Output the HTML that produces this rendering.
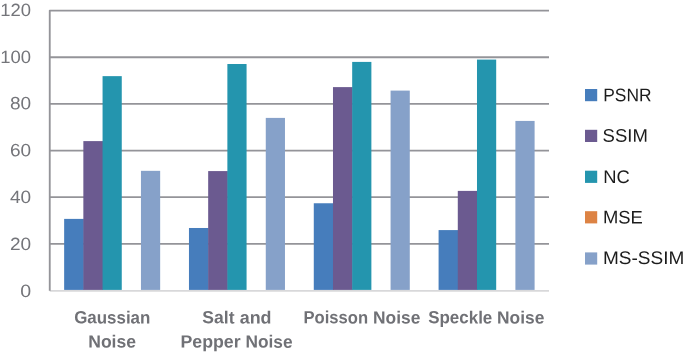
<!DOCTYPE html>
<html><head><meta charset="utf-8"><title>Chart</title>
<style>
html,body{margin:0;padding:0;background:#fff;}
svg{display:block;}
text{font-family:"Liberation Sans",sans-serif;}
.ax{font-size:17.8px;fill:#74757A;}
.cat{font-size:17.6px;font-weight:bold;fill:#707176;}
.lg{font-size:18.2px;fill:#1c1c1c;}
</style></head><body>
<svg width="685" height="355" viewBox="0 0 685 355">
<rect width="685" height="355" fill="#fff"/>
<line x1="49.75" y1="243.85" x2="549.00" y2="243.85" stroke="#949499" stroke-width="1.8"/>
<line x1="49.75" y1="197.20" x2="549.00" y2="197.20" stroke="#949499" stroke-width="1.8"/>
<line x1="49.75" y1="150.55" x2="549.00" y2="150.55" stroke="#949499" stroke-width="1.8"/>
<line x1="49.75" y1="103.90" x2="549.00" y2="103.90" stroke="#949499" stroke-width="1.8"/>
<line x1="49.75" y1="57.25" x2="549.00" y2="57.25" stroke="#949499" stroke-width="1.8"/>
<rect x="64.15" y="218.89" width="19.70" height="71.01" fill="#467DBC"/>
<rect x="83.35" y="141.10" width="19.70" height="148.80" fill="#6B5A90"/>
<rect x="102.56" y="76.14" width="19.20" height="213.76" fill="#2495AE"/>
<rect x="140.96" y="170.84" width="19.20" height="119.06" fill="#86A1C9"/>
<rect x="188.96" y="227.99" width="19.70" height="61.91" fill="#467DBC"/>
<rect x="208.17" y="171.08" width="19.70" height="118.82" fill="#6B5A90"/>
<rect x="227.37" y="64.01" width="19.20" height="225.89" fill="#2495AE"/>
<rect x="265.77" y="117.90" width="19.20" height="172.00" fill="#86A1C9"/>
<rect x="313.78" y="203.26" width="19.70" height="86.64" fill="#467DBC"/>
<rect x="332.98" y="87.11" width="19.70" height="202.79" fill="#6B5A90"/>
<rect x="352.18" y="61.91" width="19.20" height="227.98" fill="#2495AE"/>
<rect x="390.58" y="90.60" width="19.20" height="199.30" fill="#86A1C9"/>
<rect x="438.59" y="230.09" width="19.70" height="59.81" fill="#467DBC"/>
<rect x="457.79" y="190.90" width="19.70" height="99.00" fill="#6B5A90"/>
<rect x="476.99" y="59.58" width="19.20" height="230.32" fill="#2495AE"/>
<rect x="515.40" y="120.93" width="19.20" height="168.97" fill="#86A1C9"/>
<line x1="49.75" y1="290.80" x2="549.00" y2="290.80" stroke="#D8D8DA" stroke-width="1.7"/>
<path d="M549.00 10.60 L49.75 10.60 L49.75 290.70" fill="none" stroke="#949499" stroke-width="1.85" stroke-linejoin="round"/>
<text class="ax" x="31.1" y="297.00" text-anchor="end" textLength="10.9" lengthAdjust="spacingAndGlyphs" transform="rotate(0.05 31.1 297.00)">0</text>
<text class="ax" x="31.1" y="250.00" text-anchor="end" textLength="21.2" lengthAdjust="spacingAndGlyphs" transform="rotate(0.05 31.1 250.00)">20</text>
<text class="ax" x="31.1" y="203.00" text-anchor="end" textLength="21.2" lengthAdjust="spacingAndGlyphs" transform="rotate(0.05 31.1 203.00)">40</text>
<text class="ax" x="31.1" y="156.20" text-anchor="end" textLength="21.2" lengthAdjust="spacingAndGlyphs" transform="rotate(0.05 31.1 156.20)">60</text>
<text class="ax" x="31.1" y="109.30" text-anchor="end" textLength="21.2" lengthAdjust="spacingAndGlyphs" transform="rotate(0.05 31.1 109.30)">80</text>
<text class="ax" x="31.1" y="63.00" text-anchor="end" textLength="30.8" lengthAdjust="spacingAndGlyphs" transform="rotate(0.05 31.1 63.00)">100</text>
<text class="ax" x="31.1" y="16.10" text-anchor="end" textLength="30.8" lengthAdjust="spacingAndGlyphs" transform="rotate(0.05 31.1 16.10)">120</text>
<text class="cat" transform="rotate(0.05 112.0 335)"><tspan x="74.15" y="323.4" textLength="76.2" lengthAdjust="spacingAndGlyphs">Gaussian</tspan> <tspan x="88.22" y="347.6" textLength="47.8" lengthAdjust="spacingAndGlyphs">Noise</tspan></text>
<text class="cat" transform="rotate(0.05 236.6 335)"><tspan x="202.36" y="323.4" textLength="32.2" lengthAdjust="spacingAndGlyphs">Salt</tspan> <tspan x="239.74" y="323.4" textLength="31.8" lengthAdjust="spacingAndGlyphs">and</tspan> <tspan x="180.47" y="347.6" textLength="60.1" lengthAdjust="spacingAndGlyphs">Pepper</tspan> <tspan x="245.53" y="347.6" textLength="47.1" lengthAdjust="spacingAndGlyphs">Noise</tspan></text>
<text class="cat" transform="rotate(0.05 362.0 335)"><tspan x="303.47" y="323.4" textLength="64.6" lengthAdjust="spacingAndGlyphs">Poisson</tspan> <tspan x="373.01" y="323.4" textLength="47.3" lengthAdjust="spacingAndGlyphs">Noise</tspan></text>
<text class="cat" transform="rotate(0.05 486.2 335)"><tspan x="428.19" y="323.4" textLength="64.1" lengthAdjust="spacingAndGlyphs">Speckle</tspan> <tspan x="497.01" y="323.4" textLength="47.3" lengthAdjust="spacingAndGlyphs">Noise</tspan></text>
<rect x="585.0" y="89.0" width="12.2" height="12.2" fill="#467DBC"/>
<text class="lg" x="603.2" y="101.2" textLength="48.3" lengthAdjust="spacingAndGlyphs" transform="rotate(0.05 627.4 101.2)">PSNR</text>
<rect x="585.0" y="129.8" width="12.2" height="12.2" fill="#6B5A90"/>
<text class="lg" x="602.6" y="141.8" textLength="45.2" lengthAdjust="spacingAndGlyphs" transform="rotate(0.05 625.2 141.8)">SSIM</text>
<rect x="585.0" y="170.7" width="12.2" height="12.2" fill="#2495AE"/>
<text class="lg" x="603.2" y="183.0" textLength="26.5" lengthAdjust="spacingAndGlyphs" transform="rotate(0.05 616.5 183.0)">NC</text>
<rect x="585.0" y="211.2" width="12.2" height="12.2" fill="#DD8344"/>
<text class="lg" x="603.0" y="223.4" textLength="39.9" lengthAdjust="spacingAndGlyphs" transform="rotate(0.05 623.0 223.4)">MSE</text>
<rect x="585.0" y="252.4" width="12.2" height="12.2" fill="#86A1C9"/>
<text class="lg" x="603.0" y="264.1" textLength="81.3" lengthAdjust="spacingAndGlyphs" transform="rotate(0.05 643.6 264.1)">MS-SSIM</text>
</svg>
</body></html>
